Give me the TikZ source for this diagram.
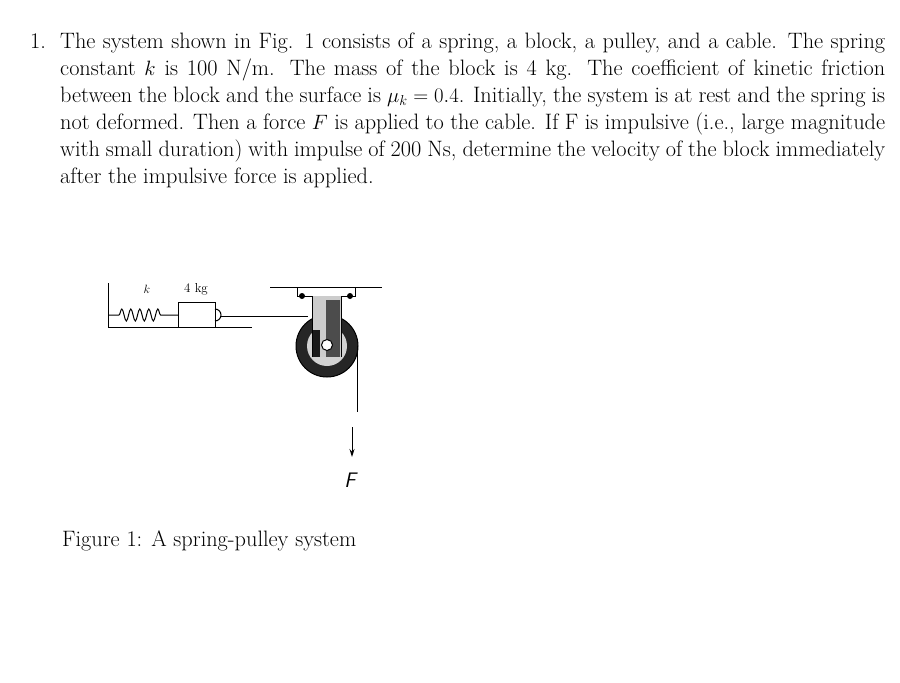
\documentclass[tikz,border=0pt]{standalone}
\usetikzlibrary{decorations.pathmorphing,arrows.meta}
\begin{document}
\begin{tikzpicture}[x=1pt,y=-1pt,
  txt/.style={anchor=base west,inner sep=0pt,font=\fontsize{22.3}{27}\selectfont},
  lab/.style={inner sep=0pt,font=\fontsize{13}{15}\selectfont},
  ln/.style={line width=1pt}]
\useasboundingbox (0,0) rectangle (900,683);
\node[txt] (n1) at (30,48) {1.};
\node[txt] (l1) at (60,48) {\makebox[825pt][s]{The system shown in Fig. 1 consists of a spring, a block, a pulley, and a cable. The spring}};
\node[txt] (l2) at (60,75) {\makebox[825pt][s]{constant $k$ is 100 N/m. The mass of the block is 4 kg. The coefficient of kinetic friction}};
\node[txt] (l3) at (60,102) {\makebox[825pt][s]{between the block and the surface is $\mu_k=0.4$. Initially, the system is at rest and the spring is}};
\node[txt] (l4) at (60,129) {\makebox[825pt][s]{not deformed. Then a force $F$ is applied to the cable. If F is impulsive (i.e., large magnitude}};
\node[txt] (l5) at (60,156) {\makebox[825pt][s]{with small duration) with impulse of 200 Ns, determine the velocity of the block immediately}};
\node[txt] (l6) at (60,183) {after the impulsive force is applied.};
\node[txt] (cap) at (62,546) {Figure 1: A spring-pulley system};
% wall and floor
\draw[ln] (108,283) -- (108,327) -- (252,327);
% spring
\draw[ln] (108,315) -- (119,315)
  decorate[decoration={snake,segment length=9pt,amplitude=6pt}]{-- (164,315)} -- (178,315);
% block
\node[draw,ln,rectangle,fill=white,minimum width=37pt,minimum height=25pt,inner sep=0pt] (blk) at (196.5,314.5) {};
\draw[ln] (215,309) arc[start angle=-90,end angle=90,radius=6];
\node[lab,font=\itshape\fontsize{13}{15}\selectfont] (k) at (147,289) {$k$};
\node[lab] (m) at (196,289) {4 kg};
% ceiling and bracket
\draw[ln] (270,287) -- (382,287);
\draw[ln,fill=white] (297,287) rectangle (355,296);
\fill (302,296) circle (3); \fill (350,296) circle (3);
% pulley
\coordinate (pc) at (327,346);
\fill[black!85] (pc) circle (31);
\fill[gray!35] (pc) circle (20);
\draw[ln] (pc) circle (31);
\fill[gray!40] (312,296) rectangle (341,357);
\fill[black!70] (326,300) rectangle (340,357);
\fill[black!90] (312,330) rectangle (320,357);
\draw[ln] (312,296) -- (312,357) (341,296) -- (341,357);
\node[circle,draw,ln,fill=white,minimum size=11pt,inner sep=0pt] (ax) at (327,345) {};
% cable
\coordinate (c1) at (221,316);
\coordinate (c2) at (308,316);
\draw[ln] (c1) -- (c2);
\coordinate (c3) at (357,346);
\coordinate (c4) at (357,412);
\draw[ln] (c3) -- (c4);
\coordinate (a1) at (352,427);
\coordinate (a2) at (352,457);
\draw[ln,-{Stealth[length=8pt,width=5pt]}] (a1) -- (a2);
\node[lab,font=\sffamily\slshape\fontsize{21}{23}\selectfont] (F) at (350,480) {F};
\end{tikzpicture}
\end{document}
